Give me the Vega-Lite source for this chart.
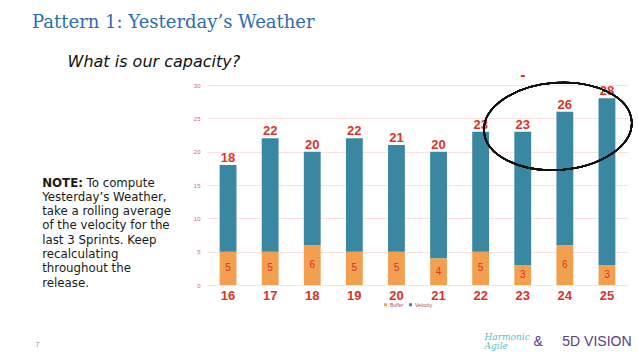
{
  "$schema": "https://vega.github.io/schema/vega-lite/v6.json",
  "width": 421,
  "height": 200,
  "autosize": {"type": "none"},
  "padding": {"left": 207, "top": 85, "right": 10, "bottom": 74},
  "background": "white",
  "config": {"view": {"stroke": null}, "font": "Liberation Sans"},
  "title": {
    "text": "Pattern 1: Yesterday’s Weather",
    "subtitle": "\u200b\u00a0\u00a0\u00a0\u00a0\u00a0\u00a0\u00a0What is our capacity?",
    "anchor": "start",
    "frame": "group",
    "dx": -175,
    "dy": 4,
    "font": "DejaVu Serif",
    "fontSize": 18,
    "fontWeight": "normal",
    "color": "#2b6cb3",
    "subtitleFont": "DejaVu Sans",
    "subtitleFontSize": 16,
    "subtitleFontStyle": "italic",
    "subtitleColor": "#111111",
    "subtitlePadding": 22
  },
  "data": {
    "values": [
      {"sprint": 16, "Buffer": 5, "Velocity": 13, "total": 18},
      {"sprint": 17, "Buffer": 5, "Velocity": 17, "total": 22},
      {"sprint": 18, "Buffer": 6, "Velocity": 14, "total": 20},
      {"sprint": 19, "Buffer": 5, "Velocity": 17, "total": 22},
      {"sprint": 20, "Buffer": 5, "Velocity": 16, "total": 21},
      {"sprint": 21, "Buffer": 4, "Velocity": 16, "total": 20},
      {"sprint": 22, "Buffer": 5, "Velocity": 18, "total": 23},
      {"sprint": 23, "Buffer": 3, "Velocity": 20, "total": 23},
      {"sprint": 24, "Buffer": 6, "Velocity": 20, "total": 26},
      {"sprint": 25, "Buffer": 3, "Velocity": 25, "total": 28}
    ]
  },
  "layer": [
    {
      "transform": [{"fold": ["Buffer", "Velocity"], "as": ["series", "value"]}],
      "mark": {"type": "bar"},
      "encoding": {
        "x": {
          "field": "sprint", "type": "ordinal",
          "scale": {"paddingInner": 0.6, "paddingOuter": 0.3},
          "axis": {
            "orient": "bottom", "labelAngle": 0, "labelFontSize": 13, "labelFontWeight": "bold",
            "labelColor": "#dc3228", "labelFont": "Liberation Sans", "labelPadding": 4,
            "ticks": false, "domain": false, "grid": false,
            "title": "&\u00a0\u00a0\u00a0\u00a0\u00a05D VISION", "titleFont": "Liberation Sans", "titleFontSize": 14,
            "titleFontWeight": "normal", "titleColor": "#5a3d8a", "titleAlign": "left",
            "titleBaseline": "alphabetic", "titleX": 326, "titleY": 60
          }
        },
        "y": {
          "field": "value", "type": "quantitative", "stack": "zero",
          "scale": {"domain": [0, 30], "nice": false},
          "axis": {
            "orient": "left", "values": [0, 5, 10, 15, 20, 25, 30],
            "labelFontSize": 6, "labelColor": "#e06666", "labelPadding": 7,
            "ticks": false, "domain": false, "grid": true, "gridColor": "#fbe1e1",
            "title": [
              "Yesterday’s Weather,",
              "take a rolling average",
              "of the velocity for the",
              "last 3 Sprints. Keep",
              "recalculating",
              "throughout the",
              "release."
            ],
            "titleAngle": 0, "titleAlign": "left", "titleBaseline": "alphabetic",
            "titleX": -165.3, "titleY": 115.3, "titleFont": "DejaVu Sans", "titleFontSize": 11.8,
            "titleFontWeight": "normal", "titleColor": "#1a1a1a", "titleLineHeight": 14.3
          }
        },
        "color": {
          "field": "series", "type": "nominal",
          "scale": {"domain": ["Buffer", "Velocity"], "range": ["#f2a050", "#3a87a1"]},
          "legend": {
            "orient": "none", "legendX": 176, "legendY": 217, "direction": "horizontal",
            "title": null, "labelFontSize": 5, "symbolSize": 9, "symbolType": "square",
            "labelColor": "#b05050", "columnPadding": 4, "labelOffset": 2
          }
        },
        "order": {"field": "series"}
      }
    },
    {
      "mark": {"type": "text", "fontSize": 13, "fontWeight": "bold", "color": "#dc3228", "dy": -3, "baseline": "alphabetic", "font": "Liberation Sans"},
      "encoding": {
        "x": {
          "field": "sprint", "type": "ordinal",
          "axis": {
            "orient": "top", "labels": false, "ticks": false, "domain": false, "grid": false,
            "title": ["Harmonic", "Agile"], "titleFont": "DejaVu Serif",
            "titleFontStyle": "italic", "titleFontSize": 9, "titleLineHeight": 9, "titleColor": "#5bbfc0",
            "titleFontWeight": "normal", "titleAlign": "left", "titleBaseline": "alphabetic",
            "titleX": 277, "titleY": 254
          }
        },
        "y": {
          "field": "total", "type": "quantitative",
          "axis": {
            "orient": "right", "labels": false, "ticks": false, "domain": false, "grid": false,
            "title": "NOTE:", "titleAngle": 0, "titleAlign": "left", "titleBaseline": "alphabetic",
            "titleX": -586.3, "titleY": 101, "titleFont": "DejaVu Sans", "titleFontSize": 11.8,
            "titleFontWeight": "bold", "titleColor": "#1a1a1a"
          }
        },
        "text": {"field": "total"}
      }
    },
    {
      "transform": [{"calculate": "datum.Buffer / 2", "as": "mid"}],
      "mark": {"type": "text", "fontSize": 10, "color": "#dc3228", "baseline": "middle", "font": "Liberation Sans"},
      "encoding": {
        "x": {
          "field": "sprint", "type": "ordinal",
          "axis": {
            "orient": "bottom", "labels": false, "ticks": false, "domain": false, "grid": false,
            "title": "7", "titleFont": "Liberation Sans", "titleFontSize": 7, "titleFontWeight": "normal",
            "titleColor": "#888888", "titleAlign": "left", "titleBaseline": "alphabetic",
            "titleX": -172, "titleY": 61
          }
        },
        "y": {
          "field": "mid", "type": "quantitative",
          "axis": {
            "orient": "left", "labels": false, "ticks": false, "domain": false, "grid": false,
            "title": "To compute", "titleAngle": 0, "titleAlign": "left", "titleBaseline": "alphabetic",
            "titleX": -121, "titleY": 101, "titleFont": "DejaVu Sans", "titleFontSize": 11.8,
            "titleFontWeight": "normal", "titleColor": "#1a1a1a"
          }
        },
        "text": {"field": "Buffer"}
      }
    },
    {
      "mark": {
        "type": "point", "filled": false, "stroke": "#111111", "strokeWidth": 1.5,
        "shape": "M-1,0A1,0.59,0,1,1,1,0A1,0.59,0,1,1,-1,0Z", "size": 21904, "angle": -4, "opacity": 1,
        "xOffset": -7
      },
      "encoding": {
        "x": {"datum": 24, "type": "ordinal", "axis": null},
        "y": {"datum": 23.8, "type": "quantitative", "axis": null}
      }
    },
    {
      "mark": {"type": "text", "text": "-", "fontSize": 12, "fontWeight": "bold", "color": "#dc3228", "baseline": "middle"},
      "encoding": {
        "x": {"datum": 23, "type": "ordinal", "axis": null},
        "y": {"datum": 31.4, "type": "quantitative", "axis": null}
      }
    }
  ],
  "resolve": {"axis": {"x": "independent", "y": "independent"}}
}
